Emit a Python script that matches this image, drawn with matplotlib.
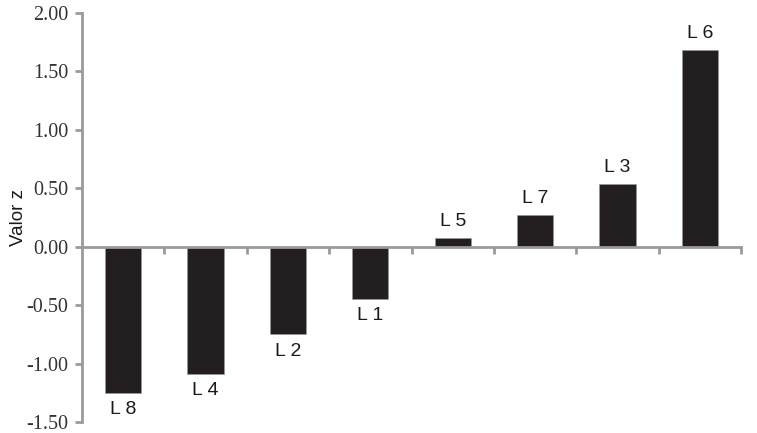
import matplotlib.pyplot as plt
import numpy as np

labels = ['L 8', 'L 4', 'L 2', 'L 1', 'L 5', 'L 7', 'L 3', 'L 6']
zvals = [-1.25, -1.09, -0.75, -0.45, 0.075, 0.27, 0.535, 1.68]
yticks = [-1.5, -1.0, -0.5, 0.0, 0.5, 1.0, 1.5, 2.0]

axis_col = '#9a9a9a'
bar_col = '#231f20'

fig = plt.figure(figsize=(7.57, 4.33), dpi=100)
ax = fig.add_axes([0.1083, 0.0254, 0.8707, 0.9446])

x = np.arange(len(labels))
ax.bar(x, zvals, width=0.44, color=bar_col, edgecolor=axis_col, linewidth=0.4)

# labels above positive bars, below negative ones
for xi, v, lab in zip(x, zvals, labels):
    if v >= 0:
        ax.text(xi, v + 0.07, lab, ha='center', va='bottom', fontsize=14,
                family='Liberation Sans', color='#1a1a1a')
    else:
        ax.text(xi, v - 0.07, lab, ha='center', va='top', fontsize=14,
                family='Liberation Sans', color='#1a1a1a')

ax.set_xlim(-0.5, len(labels) - 0.5)
ax.set_ylim(-1.5, 2.0)
ax.set_yticks(yticks)
ax.set_yticklabels(['%.2f' % t for t in yticks], family='Liberation Serif',
                   fontsize=14.5, color='#333333')
ax.set_xticks(np.arange(0.5, len(labels), 1.0))
ax.set_xticklabels([])

ax.spines['top'].set_visible(False)
ax.spines['right'].set_visible(False)
ax.spines['bottom'].set_position(('data', 0))
for s in ['left', 'bottom']:
    ax.spines[s].set_color(axis_col)
    ax.spines[s].set_linewidth(2)
ax.tick_params(axis='y', length=5, width=2, color=axis_col, pad=5)
ax.tick_params(axis='x', length=5, width=2, color=axis_col, direction='out')

ax.set_ylabel('Valor z', family='Liberation Sans', fontsize=13.5, color='#1a1a1a')
ax.yaxis.set_label_coords(-0.084, 0.5)

fig.savefig('out.png', dpi=100)
